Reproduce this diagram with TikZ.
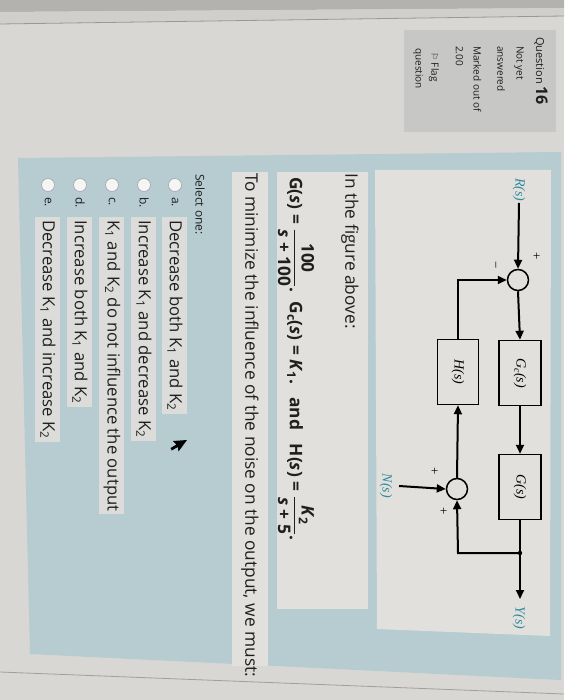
\documentclass[tikz,border=0pt]{standalone}
\usepackage{fontspec}
\setmainfont{Open Sans}
\newfontfamily\dgf{Liberation Serif}
\newfontfamily\symf{DejaVu Sans}
\usetikzlibrary{arrows.meta}
\definecolor{pagebg}{HTML}{D9D7D3}
\definecolor{bezel}{HTML}{B3B2AE}
\definecolor{stripc}{HTML}{D1CFCB}
\definecolor{panelblue}{HTML}{B6CCD0}
\definecolor{whitebox}{HTML}{E1E0DC}
\definecolor{qpanel}{HTML}{C7C7C5}
\definecolor{optbox}{HTML}{DCDDDA}
\definecolor{labteal}{HTML}{2E8B9A}
\definecolor{ink}{HTML}{1F1F1F}
\tikzset{
  blk/.style={draw=black, line width=1.5pt, minimum width=65pt, minimum height=42pt, inner sep=0pt,
    font=\dgf\itshape\fontsize{14}{14}\selectfont},
  sumc/.style={circle, draw=black, line width=1.5pt, minimum size=21pt, inner sep=0pt},
  sig/.style={line width=2pt, -{Triangle[length=9pt,width=8pt]}},
  lbl/.style={font=\dgf\itshape\fontsize{14}{14}\selectfont, text=labteal, inner sep=1pt},
  sgn/.style={font=\dgf\fontsize{13}{13}\selectfont, inner sep=0pt},
  body/.style={anchor=west, inner sep=0pt, text=ink, font=\fontsize{17.3}{17.3}\selectfont},
  small/.style={anchor=west, inner sep=0pt, text=ink, font=\fontsize{10}{10}\selectfont},
  opt/.style={anchor=west, fill=optbox, inner xsep=3pt, inner ysep=0pt, minimum height=25pt,
    text=ink, font=\fontsize{16.7}{16.7}\selectfont},
  radio/.style={circle, draw=gray!70, fill=white!92!gray, line width=0.6pt, minimum size=13pt, inner sep=0pt},
  letter/.style={anchor=west, inner sep=0pt, text=ink, font=\fontsize{12}{12}\selectfont}
}
\begin{document}
\begin{tikzpicture}[x=1pt,y=1pt]
\useasboundingbox (-564,-700) rectangle (0,0);
\fill[pagebg] (-564,-700) rectangle (0,0);
\begin{scope}[rotate=-90, transform shape]
  % screen edge
  \fill[bezel] (0,0) -- (8,0) -- (12,-564) -- (0,-564) -- cycle;
  \fill[stripc] (8,0) -- (16,0) -- (24,-564) -- (12,-564) -- cycle;
  \draw[gray!80, line width=0.8pt] (16,0) -- (24,-564);
  \draw[gray!75, line width=0.8pt] (694,0) -- (672,-564);
  % question info panel
  \fill[qpanel] (30,-8) rectangle (132,-160);
  \node[small, font=\fontsize{11}{11}\selectfont] (q16) at (37,-23) {Question \textbf{\fontsize{16}{16}\selectfont 16}};
  \node[small] (nyet) at (46,-45) {Not yet};
  \node[small] (answ) at (46,-63) {answered};
  \node[small] (mark) at (46,-86.5) {Marked out of};
  \node[small] (pts) at (46,-104.5) {2.00};
  \node[small] (flag) at (52,-130) {{\symf\fontsize{9}{9}\selectfont ⚐}\ Flag};
  \node[small] (flq) at (48,-146) {question};
  % main panel
  \fill[panelblue] (152,-3) -- (680,-3) -- (654,-534) -- (158,-546) -- cycle;
  \fill[whitebox] (170,-13) -- (636,-14) -- (629,-187) -- (170,-189) -- cycle;
  \fill[whitebox] (172,-196) rectangle (609,-287);
  \fill[whitebox] (172,-296) rectangle (666,-332);
  % block diagram
  \node[lbl] (R) at (190,-45) {R(s)};
  \node[sumc] (s1) at (280,-46) {};
  \node[blk] (Gc) at (373,-44) {G\textsubscript{c}(s)};
  \node[blk] (G) at (487,-44) {G(s)};
  \coordinate (dot) at (553,-44);
  \coordinate (yend) at (599,-44);
  \node[lbl] (Y) at (618,-45) {Y(s)};
  \node[sumc] (s2) at (489,-107) {};
  \node[blk, minimum height=41pt] (H) at (372,-106) {H(s)};
  \node[lbl] (N) at (486,-178) {N(s)};
  \coordinate (nst) at (486,-165);
  \coordinate (c1) at (553,-106);
  \coordinate (c2) at (280,-106);
  \draw[sig] (R.east) -- (s1.west);
  \draw[sig] (s1.east) -- (Gc.west);
  \draw[sig] (Gc.east) -- (G.west);
  \draw[sig] (G.east) -- (yend);
  \fill (dot) circle (2.2);
  \draw[sig] (dot) -- (c1) -- (s2.east);
  \draw[sig] (nst) -- (s2.south);
  \draw[sig] (s2.west) -- (H.east);
  \draw[sig] (H.west) -- (c2) -- (s1.south);
  \node[sgn] (p1) at (256,-28) {+};
  \node[sgn] (m1) at (265,-70) {\textminus};
  \node[sgn] (p2) at (471,-130) {+};
  \node[sgn] (p3) at (511,-121) {+};
  % text
  \node[body] (intro) at (173,-214) {In the figure above:};
  \node[body, font=\bfseries\fontsize{17.3}{17.3}\selectfont] (eq) at (177,-268)
    {G(\textit{s}) = $\displaystyle\frac{\mbox{\bfseries\fontsize{17.3}{17.3}\selectfont 100}}{\mbox{\bfseries\fontsize{17.3}{17.3}\selectfont\textit{s} + 100}}$.\ \ G\textsubscript{c}(\textit{s}) = \textit{K}\textsubscript{1}.\ \ \ and\ \ \ H(\textit{s}) = $\displaystyle\frac{\mbox{\bfseries\fontsize{17.3}{17.3}\selectfont\textit{K}\textsubscript{2}}}{\mbox{\bfseries\fontsize{17.3}{17.3}\selectfont\textit{s} + 5}}$.};
  \node[body] (task) at (173,-314) {To minimize the influence of the noise on the output, we must:};
  \node[letter] (sel) at (174,-364) {Select one:};
  \foreach \r/\l/\t [count=\i] in {389/a./{Decrease both K\textsubscript{1} and K\textsubscript{2}},
      420/b./{Increase K\textsubscript{1} and decrease K\textsubscript{2}},
      452/c./{K\textsubscript{1} and K\textsubscript{2} do not influence the output},
      484/d./{Increase both K\textsubscript{1} and K\textsubscript{2}},
      516/e./{Decrease K\textsubscript{1} and increase K\textsubscript{2}}}{
    \node[radio] (rb\i) at (185,-\r) {};
    \node[letter] (lt\i) at (197,-\r) {\l};
    \node[opt] (op\i) at (217,-\r) {\t};
  }
  % mouse cursor
  \fill[black] (440,-377) -- (441,-391) -- (444.5,-387.5) -- (448,-393.5) -- (450.5,-392.2) -- (447,-386.2) -- (451.5,-385.5) -- cycle;
\end{scope}
\end{tikzpicture}
\end{document}
